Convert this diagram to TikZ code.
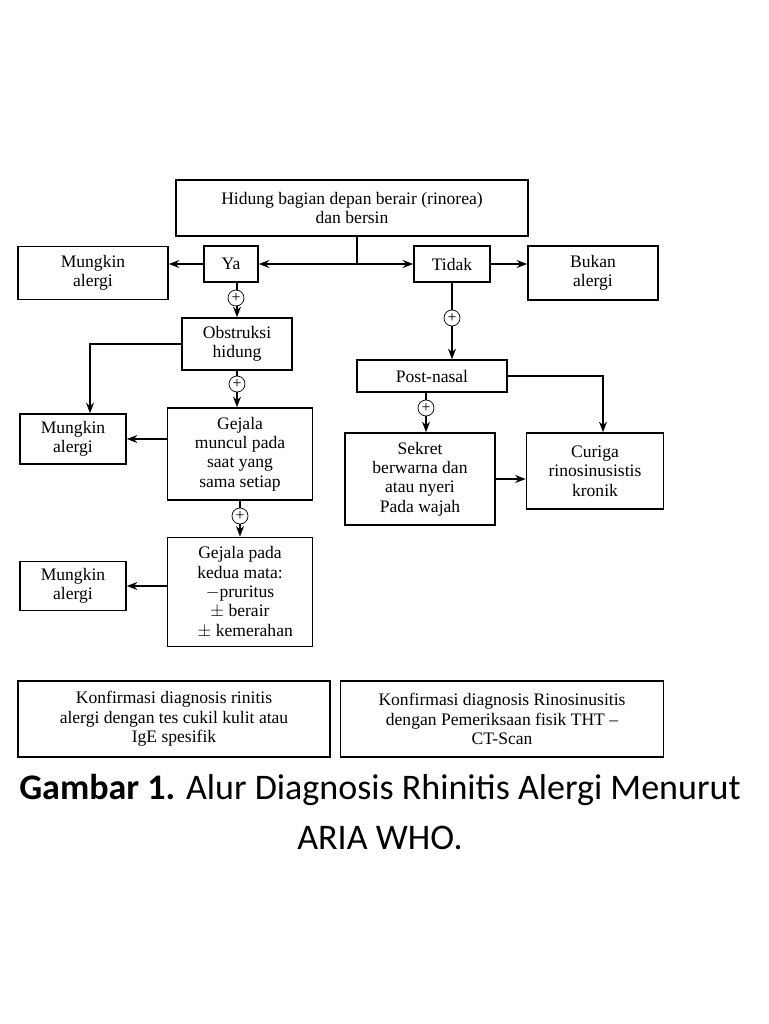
\documentclass[tikz,border=0pt]{standalone}
\usepackage{fontspec}
\setmainfont{Liberation Serif}
\newfontfamily\capfont{Carlito}
\usetikzlibrary{arrows.meta}

\begin{document}
\begin{tikzpicture}[x=0.02cm,y=-0.02cm,
    box/.style={draw,line width=0.9pt,align=center,inner sep=1pt,font=\fontsize{10}{11}\selectfont},
    plus/.style={draw,circle,fill=white,inner sep=0pt,minimum size=16*0.02cm,font=\small},
    >={Stealth[length=6pt]}]
    \useasboundingbox (0,0) rectangle (768,1024);

    \node[box,minimum width=352*0.02cm,minimum height=56*0.02cm] (H0) at (352,208) {Hidung bagian depan berair (rinorea)\\dan bersin};
    \node[box,minimum width=54*0.02cm,minimum height=36*0.02cm] (Ya) at (231,264) {Ya};
    \node[box,minimum width=76*0.02cm,minimum height=36*0.02cm] (Td) at (452,264) {Tidak};
    \node[box,minimum width=150*0.02cm,minimum height=53*0.02cm] (MA1) at (93,273) {Mungkin\\alergi};
    \node[box,minimum width=130*0.02cm,minimum height=54*0.02cm] (BA) at (593,273) {Bukan\\alergi};
    \node[box,minimum width=110*0.02cm,minimum height=52*0.02cm] (Ob) at (237,344) {Obstruksi\\hidung};
    \node[box,minimum width=150*0.02cm,minimum height=32*0.02cm] (PN) at (432,376) {Post-nasal};
    \node[box,minimum width=106*0.02cm,minimum height=50*0.02cm] (MA2) at (73,439) {Mungkin\\alergi};
    \node[box,minimum width=145*0.02cm,minimum height=92*0.02cm] (G1) at (240,454) {Gejala\\muncul pada\\saat yang\\sama setiap};
    \node[box,minimum width=150*0.02cm,minimum height=92*0.02cm] (Sk) at (420,479) {Sekret\\berwarna dan\\atau nyeri\\Pada wajah};
    \node[box,minimum width=137*0.02cm,minimum height=76*0.02cm] (Cr) at (595,471) {Curiga\\rinosinusistis\\kronik};
    \node[box,minimum width=106*0.02cm,minimum height=49*0.02cm] (MA3) at (73,586) {Mungkin\\alergi};
    \node[box,minimum width=145*0.02cm,minimum height=109*0.02cm] (G2) at (240,592) {Gejala pada\\kedua mata:\\$-$pruritus\hspace*{1.2em}\\$\pm$ berair\hspace*{1.9em}\\\hspace*{0.6em}$\pm$ kemerahan};
    \node[box,minimum width=312*0.02cm,minimum height=76*0.02cm] (K1) at (174,719) {Konfirmasi diagnosis rinitis\\alergi dengan tes cukil kulit atau\\IgE spesifik};
    \node[box,minimum width=323*0.02cm,minimum height=76*0.02cm] (K2) at (502,719) {Konfirmasi diagnosis Rinosinusitis\\dengan Pemeriksaan fisik THT --\\CT-Scan};
    \node[font=\capfont\fontsize{20.5}{28}\selectfont,align=center] (Cap) at (380,812) {\textbf{Gambar 1.} Alur Diagnosis Rhinitis Alergi Menurut\\ARIA WHO.};
    \coordinate (J0) at (357,264);

    % connectors
    \draw[thick] (H0.south -| J0) -- (J0);
    \draw[thick,<->] (Ya) -- (Td);
    \draw[thick,->] (Ya) -- (Ya -| MA1.east);
    \draw[thick,->] (Td) -- (Td -| BA.west);
    \draw[thick,->] (Ya.south -| Ob) -- (Ob);
    \draw[thick,->] (Ob.west) -| (MA2.north -| 90,0);
    \draw[thick,->] (Ob) -- (Ob.south |- G1.north);
    \draw[thick,->] (G1.west |- MA2) -- (MA2);
    \draw[thick,->] (G1) -- (G2);
    \draw[thick,->] (G2.west |- MA3) -- (MA3);
    \draw[thick,->] (Td) -- (Td.south |- PN.north);
    \draw[thick,->] (PN.east) -| (Cr.north -| 603,0);
    \draw[thick,->] (PN.south -| 426,0) -- (Sk.north -| 426,0);
    \draw[thick,->] (Sk) -- (Sk -| Cr.west);

    \node[plus] (P1) at (236,298) {+};
    \node[plus] (P2) at (452,318) {+};
    \node[plus] (P3) at (237,384) {+};
    \node[plus] (P4) at (426,408) {+};
    \node[plus] (P5) at (240,516) {+};
\end{tikzpicture}
\end{document}
